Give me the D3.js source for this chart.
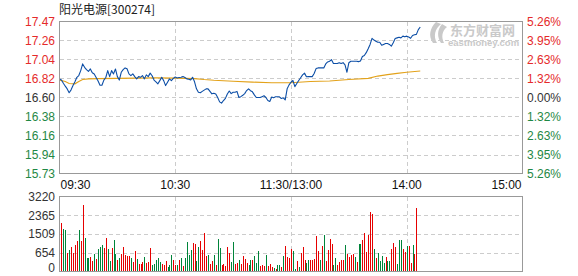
<!DOCTYPE html>
<html>
<head>
<meta charset="utf-8">
<script src="https://cdn.jsdelivr.net/npm/d3@7"></script>
<style>
  body { margin: 0; background: #fff; }
  svg { display: block; }
</style>
</head>
<body>
<svg id="chart"></svg>
<script>
const WIDTH = 578
const HEIGHT = 276

const TITLE = '阳光电源[300274]'
const PREV_CLOSE = 16.60
const MAX_PCT = 0.0526

const priceLabels = ['17.47', '17.26', '17.04', '16.82', '16.60', '16.38', '16.16', '15.94', '15.73']
const pctLabels = ['5.26%', '3.95%', '2.63%', '1.32%', '0.00%', '1.32%', '2.63%', '3.95%', '5.26%']
const timeLabels = ['09:30', '10:30', '11:30/13:00', '14:00', '15:00']
const timeMinutes = [0, 60, 120, 180, 240]
const volLabels = ['3220', '2365', '1509', '654', '0']
const VOL_MAX = 3220

// one price per minute from 09:30
const prices = [
  16.814, 16.802, 16.764, 16.73, 16.699, 16.654, 16.688, 16.737, 16.78, 16.832,
  16.852, 16.909, 16.986, 16.947, 16.92, 16.901, 16.928, 16.885, 16.87, 16.83,
  16.79, 16.74, 16.74, 16.80, 16.83, 16.909, 16.84, 16.909, 16.871, 16.928,
  16.84, 16.80, 16.89, 16.92, 16.94, 16.93, 16.871, 16.852, 16.871, 16.84,
  16.814, 16.84, 16.832, 16.852, 16.814, 16.86, 16.84, 16.88, 16.85, 16.80,
  16.78, 16.757, 16.794, 16.832, 16.794, 16.737, 16.775, 16.814, 16.794, 16.82,
  16.835, 16.825, 16.83, 16.832, 16.84, 16.83, 16.814, 16.81, 16.802, 16.832,
  16.78, 16.70, 16.66, 16.655, 16.67, 16.685, 16.699, 16.699, 16.67, 16.642,
  16.649, 16.64, 16.60, 16.55, 16.535, 16.565, 16.59, 16.64, 16.675, 16.645,
  16.66, 16.66, 16.67, 16.60, 16.61, 16.625, 16.645, 16.68, 16.70, 16.678,
  16.665, 16.63, 16.60, 16.60, 16.60, 16.61, 16.62, 16.60, 16.566, 16.555,
  16.605, 16.598, 16.608, 16.608, 16.608, 16.588, 16.596, 16.572, 16.70, 16.745,
  16.775, 16.795, 16.725, 16.76, 16.795, 16.827, 16.86, 16.88, 16.838, 16.84,
  16.84, 16.84, 16.875, 16.932, 16.94, 16.94, 16.94, 16.94, 16.985, 17.009,
  17.016, 17.035, 16.99, 16.99, 16.99, 17.0, 16.99, 17.0, 16.975, 16.89,
  17.0, 17.016, 17.016, 17.016, 17.016, 17.012, 17.02, 17.07, 17.083, 17.115,
  17.16, 17.21, 17.28, 17.26, 17.247, 17.235, 17.235, 17.20, 17.21, 17.22,
  17.22, 17.21, 17.19, 17.23, 17.278, 17.285, 17.292, 17.285, 17.305, 17.297,
  17.305, 17.295, 17.28, 17.313, 17.321, 17.325, 17.38, 17.41
]

// average price line, read at these minutes
const avgMinutes = [0, 3, 5, 8, 10, 12, 15, 20, 30, 40, 50, 60, 70, 75, 80, 90, 100, 110, 120, 130, 140, 150, 160, 165, 170, 175, 180, 187]
const avgPrices = [16.80, 16.785, 16.76, 16.757, 16.783, 16.806, 16.814, 16.817, 16.82, 16.823, 16.825, 16.823, 16.817, 16.806, 16.798, 16.787, 16.777, 16.77, 16.77, 16.783, 16.79, 16.806, 16.82, 16.846, 16.863, 16.877, 16.89, 16.905]

// volume per minute, starting at 09:31
const volumes = [
  2070, 1811, 1783, 776, 906, 1035, 776, 1121, 1294, 1768,
  1294, 2846, 1423, 561, 561, 604, 431, 733, 518, 949,
  1035, 1121, 992, 1423, 949, 431, 992, 1337, 733, 474,
  561, 733, 1035, 690, 647, 647, 561, 388, 863, 518,
  302, 302, 388, 604, 345, 388, 992, 259, 302, 474,
  561, 388, 302, 259, 431, 173, 259, 690, 474, 259,
  259, 474, 561, 216, 561, 1251, 690, 906, 1208, 1165,
  431, 1035, 1294, 906, 1639, 647, 690, 302, 431, 690,
  259, 1380, 992, 259, 302, 216, 1035, 776, 388, 1251,
  302, 345, 474, 302, 647, 518, 345, 273, 474, 474,
  647, 345, 863, 216, 259, 216, 690, 216, 302, 173,
  129, 86, 259, 259, 173, 673, 1116, 644, 600, 973,
  859, 114, 472, 186, 787, 1073, 474, 345, 474, 474,
  474, 517, 1509, 863, 474, 1078, 1552, 431, 906, 1380,
  1165, 259, 561, 259, 388, 474, 474, 1121, 733, 604,
  690, 733, 604, 388, 1165, 1165, 1337, 1639, 819, 1553,
  2544, 2458, 949, 561, 776, 431, 647, 345, 604, 431,
  431, 949, 1208, 1035, 302, 1337, 1337, 949, 819, 1078,
  1078, 345, 1121, 733, 2716
]
// r = up minute, g = down minute (same rows as volumes)
const volDir = [
  'rggrgrrrrg', 'rrgggrrgrg', 'ggrrggrggr', 'grrrrrgrrg', 'rrrgrrrggg',
  'ggrrrgggrr', 'grgrggggrr', 'ggrrrrgrrg', 'rggrrrrrgg', 'rrgrrrrggr',
  'gggrrrgrrr', 'grggrgrrrr', 'ggrgrrrggr', 'rrrrgrgrrr', 'rggrrrrgrr',
  'rrgrggrrrr', 'rrgrggggrg', 'grrrgggrrg', 'rrgrr'
].join('')

const C = {
  red: '#e52a2a',
  green: '#1f8845',
  black: '#333333',
  grid: '#cccccc',
  border: '#999999',
  price: '#0c4ea6',
  avg: '#e3a21a',
  barRed: '#e60000',
  barGreen: '#00843a',
  mark: '#c9c9c9'
}
const FONT = '"Liberation Sans", Arial, sans-serif'
const CJK = '"Noto Sans CJK SC", sans-serif'

const PLOT_L = 59.5, PLOT_R = 522.5
const PRICE_T = 21.5, PRICE_B = 173.5
const VOL_T = 196.5, VOL_B = 271.5

const svg = d3.select('#chart').attr('width', WIDTH).attr('height', HEIGHT)

const x = d3.scaleLinear().domain([0, 240]).range([PLOT_L, PLOT_R])
const priceLo = PREV_CLOSE * (1 - MAX_PCT)
const priceHi = PREV_CLOSE * (1 + MAX_PCT)
const y = d3.scaleLinear().domain([priceLo, priceHi]).range([PRICE_B, PRICE_T])
const yv = d3.scaleLinear().domain([0, VOL_MAX]).range([VOL_B, VOL_T])

const priceTicks = d3.range(priceLabels.length).map(i => priceHi - i * (priceHi - priceLo) / (priceLabels.length - 1))
const volTicks = d3.range(volLabels.length).map(i => VOL_MAX - i * VOL_MAX / (volLabels.length - 1))

function labelColor(i, mid) {
  if (i < mid) return C.red
  if (i > mid) return C.green
  return C.black
}

// watermark
const wm = svg.append('g').attr('class', 'watermark')
wm.append('path')
  .attr('d', 'M436,22 C430,28 428,36 433,43 L437,43 C433,36 435,29 441,24 Z M442,24 C437,30 437,37 441,43 L444,43 C441,37 442,31 447,27 Z')
  .attr('fill', C.mark)
wm.append('text')
  .attr('x', 450).attr('y', 34.5)
  .attr('font-family', CJK).attr('font-size', 13).attr('font-weight', 'bold')
  .attr('fill', C.mark)
  .text('东方财富网')
wm.append('text')
  .attr('x', 448).attr('y', 46)
  .attr('font-family', FONT).attr('font-size', 9.5).attr('font-weight', 'bold')
  .attr('fill', C.mark)
  .text('eastmoney.com')

// title
svg.append('text')
  .attr('x', 59).attr('y', 14)
  .attr('font-family', CJK).attr('font-size', 12)
  .attr('fill', '#222')
  .text(TITLE)

// grids
const grid = svg.append('g').attr('stroke', C.grid).attr('stroke-dasharray', '4,3').attr('shape-rendering', 'crispEdges')
grid.selectAll('.hp').data(priceTicks.slice(1, -1)).join('line')
  .attr('class', 'hp')
  .attr('x1', PLOT_L).attr('x2', PLOT_R)
  .attr('y1', d => Math.round(y(d)) + 0.5).attr('y2', d => Math.round(y(d)) + 0.5)
grid.selectAll('.hv').data(volTicks.slice(1, -1)).join('line')
  .attr('class', 'hv')
  .attr('x1', PLOT_L).attr('x2', PLOT_R)
  .attr('y1', d => Math.round(yv(d)) + 0.5).attr('y2', d => Math.round(yv(d)) + 0.5)
const vmins = timeMinutes.slice(1, -1)
grid.selectAll('.vp').data(vmins).join('line')
  .attr('class', 'vp')
  .attr('x1', d => Math.round(x(d)) + 0.5).attr('x2', d => Math.round(x(d)) + 0.5)
  .attr('y1', PRICE_T).attr('y2', PRICE_B)
grid.selectAll('.vv').data(vmins).join('line')
  .attr('class', 'vv')
  .attr('x1', d => Math.round(x(d)) + 0.5).attr('x2', d => Math.round(x(d)) + 0.5)
  .attr('y1', VOL_T).attr('y2', VOL_B)

// volume bars
svg.append('g').attr('shape-rendering', 'crispEdges')
  .selectAll('rect').data(volumes).join('rect')
  .attr('x', (d, i) => Math.round(x(i + 1)))
  .attr('width', 1)
  .attr('y', d => yv(d))
  .attr('height', d => VOL_B - yv(d))
  .attr('fill', (d, i) => volDir[i] === 'r' ? C.barRed : C.barGreen)

// average + price lines
svg.append('path')
  .datum(avgMinutes.map((m, i) => [m, avgPrices[i]]))
  .attr('fill', 'none').attr('stroke', C.avg).attr('stroke-width', 1.1)
  .attr('d', d3.line().x(d => x(d[0])).y(d => y(d[1])))

svg.append('path')
  .datum(prices)
  .attr('fill', 'none').attr('stroke', C.price).attr('stroke-width', 1.1)
  .attr('stroke-linejoin', 'round')
  .attr('d', d3.line().x((d, i) => x(i)).y(d => y(d)))

// borders
svg.append('g').attr('fill', 'none').attr('stroke', C.border).attr('shape-rendering', 'crispEdges')
  .selectAll('rect').data([[PRICE_T, PRICE_B], [VOL_T, VOL_B]]).join('rect')
  .attr('x', PLOT_L).attr('width', PLOT_R - PLOT_L)
  .attr('y', d => d[0]).attr('height', d => d[1] - d[0])

// axis labels
const labels = svg.append('g').attr('font-family', FONT).attr('font-size', 12)
labels.selectAll('.pl').data(priceTicks).join('text')
  .attr('class', 'pl')
  .attr('x', 55).attr('y', d => y(d)).attr('dy', '0.36em')
  .attr('text-anchor', 'end')
  .attr('fill', (d, i) => labelColor(i, 4))
  .text((d, i) => priceLabels[i])
labels.selectAll('.rl').data(priceTicks).join('text')
  .attr('class', 'rl')
  .attr('x', 527).attr('y', d => y(d)).attr('dy', '0.36em')
  .attr('fill', (d, i) => labelColor(i, 4))
  .text((d, i) => pctLabels[i])
labels.selectAll('.tl').data(timeMinutes).join('text')
  .attr('class', 'tl')
  .attr('x', (d, i) => i === 0 ? x(d) + 1 : i === timeMinutes.length - 1 ? x(d) - 1 : x(d))
  .attr('y', 189)
  .attr('text-anchor', (d, i) => i === 0 ? 'start' : i === timeMinutes.length - 1 ? 'end' : 'middle')
  .attr('fill', '#111')
  .text((d, i) => timeLabels[i])
labels.selectAll('.vl').data(volTicks).join('text')
  .attr('class', 'vl')
  .attr('x', 55).attr('y', d => Math.min(yv(d), 268)).attr('dy', '0.36em')
  .attr('text-anchor', 'end')
  .attr('fill', C.black)
  .text((d, i) => volLabels[i])
</script>
</body>
</html>
